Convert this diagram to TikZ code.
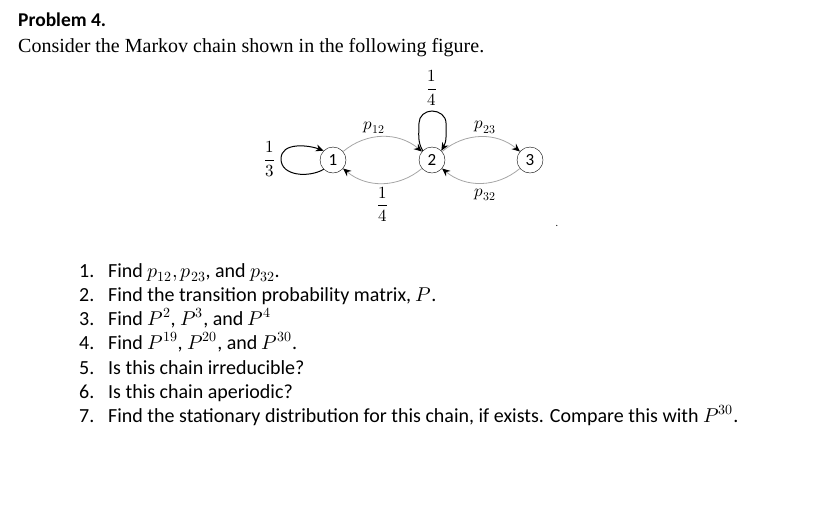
\documentclass[tikz,border=0pt]{standalone}
\usepackage{unicode-math}
\setmainfont{Carlito}
\setmathfont{Latin Modern Math}
\newfontfamily\tnr{Liberation Serif}
\usetikzlibrary{arrows.meta}
\begin{document}
\begin{tikzpicture}[x=1pt,y=-1pt,
  st/.style={circle,draw,minimum size=26pt,inner sep=0pt,font=\fontsize{17}{17}\selectfont},
  gr/.style={draw=black!35,line width=0.8pt,-{Stealth[black,length=8pt,width=7pt]}},
  bl/.style={draw=black,line width=1pt,-{Stealth[length=8pt,width=7pt]}},
  lab/.style={font=\fontsize{17}{17}\selectfont},
  txt/.style={anchor=base west,inner sep=0pt,font=\fontsize{20}{22}\selectfont}]
\useasboundingbox (0,0) rectangle (816,507);
\node[txt,font=\bfseries\fontsize{19.5}{20}\selectfont] (t1) at (18,26) {Problem 4.};
\node[txt,font=\tnr\fontsize{20}{22}\selectfont] (t2) at (18,52) {Consider the Markov chain shown in the following figure.};
\node[st] (n1) at (333,160) {1};
\node[st] (n2) at (432,160) {2};
\node[st] (n3) at (530,160) {3};
\draw[gr] (n1) to[out=40,in=140] node[lab,above=0pt,pos=0.4] {$p_{12}$} (n2);
\draw[gr] (n2) to[out=-140,in=-40] node[lab,below=0pt] {$\displaystyle\frac14$} (n1);
\draw[gr] (n2) to[out=40,in=140] node[lab,above=0pt,pos=0.55] {$p_{23}$} (n3);
\draw[gr] (n3) to[out=-140,in=-40] node[lab,below=2pt,pos=0.45] {$p_{32}$} (n2);
\draw[bl] (n1.south west) to[out=-150,in=-90] (281,159) node[lab,left=2pt] {$\displaystyle\frac13$} to[out=90,in=160] (n1.north west);
\draw[bl] (n2.north west) to[out=120,in=-90] (419,123) to[out=90,in=180] (432,111) node[lab,above=2pt] {$\displaystyle\frac14$} to[out=0,in=90] (446,123) to[out=-90,in=60] (n2.north east);
\node[inner sep=0pt] (dot) at (557,226) {.};
\foreach \i/\y/\t in {1/277/{Find $p_{12}, p_{23}$, and $p_{32}$.},
  2/301/{Find the transition probability matrix, $P$.},
  3/325/{Find $P^2$, $P^3$, and $P^4$},
  4/349/{Find $P^{19}$, $P^{20}$, and $P^{30}$.},
  5/374/{Is this chain irreducible?},
  6/398/{Is this chain aperiodic?},
  7/422/{Find the stationary distribution for this chain, if exists. Compare this with $P^{30}$.}}{
  \node[txt] (n\i a) at (79,\y) {\i.};
  \node[txt] (n\i b) at (108,\y) {\t};
}
\end{tikzpicture}
\end{document}
